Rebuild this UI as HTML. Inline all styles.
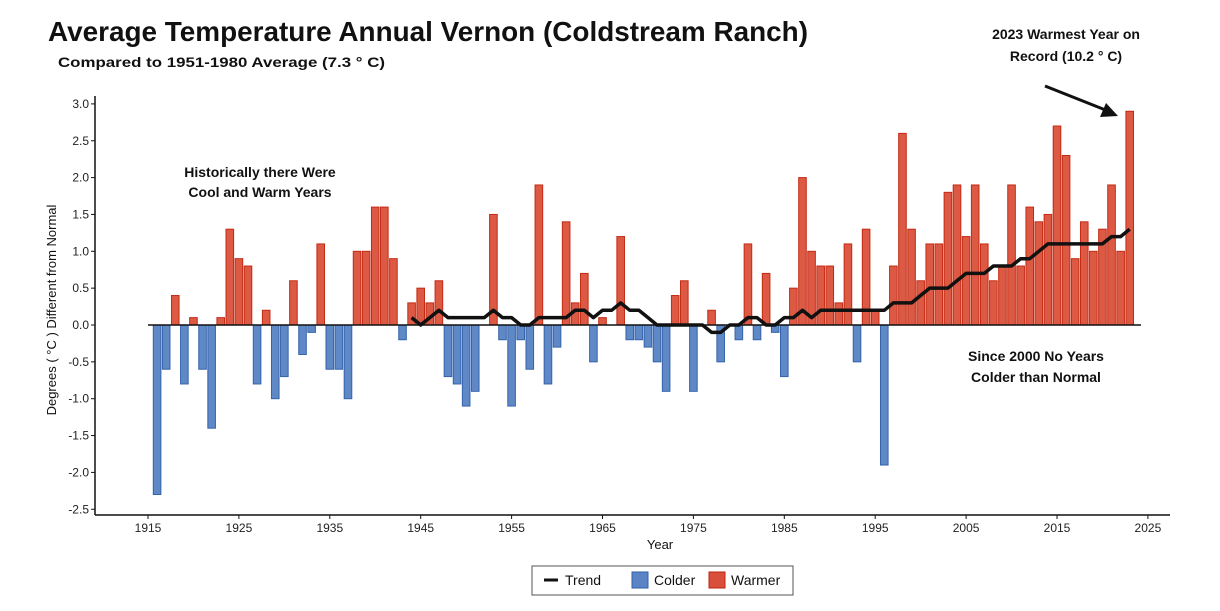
<!DOCTYPE html>
<html><head><meta charset="utf-8"><style>
body{margin:0;background:#fff;width:1220px;height:606px;overflow:hidden;font-family:"Liberation Sans",sans-serif}
</style></head><body>
<svg id="s" width="1220" height="606" xmlns="http://www.w3.org/2000/svg" font-family="Liberation Sans, sans-serif">
<text x="48" y="41" font-size="28" font-weight="bold" fill="#111" textLength="760" lengthAdjust="spacingAndGlyphs">Average Temperature Annual Vernon (Coldstream Ranch)</text>
<text x="58" y="67" font-size="14" font-weight="bold" fill="#111" textLength="327" lengthAdjust="spacingAndGlyphs">Compared to 1951-1980 Average (7.3 ° C)</text>
<text x="1066" y="39" font-size="14" font-weight="bold" fill="#111" text-anchor="middle">2023 Warmest Year on</text>
<text x="1066" y="61" font-size="14" font-weight="bold" fill="#111" text-anchor="middle">Record (10.2 ° C)</text>
<line x1="1045" y1="86" x2="1108" y2="111" stroke="#111" stroke-width="3"/>
<polygon points="1118,116 1100,117 1106,103" fill="#111"/>
<text x="260" y="177" font-size="14" font-weight="bold" fill="#111" text-anchor="middle">Historically there Were</text>
<text x="260" y="197" font-size="14" font-weight="bold" fill="#111" text-anchor="middle">Cool and Warm Years</text>
<text x="1036" y="361" font-size="14" font-weight="bold" fill="#111" text-anchor="middle">Since 2000 No Years</text>
<text x="1036" y="382" font-size="14" font-weight="bold" fill="#111" text-anchor="middle">Colder than Normal</text>
<g id="bars"></g>
<line x1="148" y1="325" x2="1141" y2="325" stroke="#111" stroke-width="1.5"/>
<polyline id="trend" fill="none" stroke="#111" stroke-width="3.5" stroke-linejoin="round"/>
<line x1="95" y1="96" x2="95" y2="515" stroke="#111" stroke-width="1.5"/>
<line x1="95" y1="515" x2="1170" y2="515" stroke="#111" stroke-width="1.5"/>
<g id="ax" font-size="12" fill="#222"></g>
<text x="56" y="310" font-size="13" fill="#111" text-anchor="middle" transform="rotate(-90 56 310)">Degrees ( °C ) Different from Normal</text>
<text x="660" y="549" font-size="13" fill="#111" text-anchor="middle">Year</text>
<rect x="532" y="566" width="261" height="29" fill="#fff" stroke="#555" stroke-width="1"/>
<line x1="544" y1="580" x2="558" y2="580" stroke="#111" stroke-width="3"/>
<text x="565" y="585" font-size="14" fill="#111">Trend</text>
<rect x="632" y="572" width="16" height="16" fill="#5b84c4" stroke="#2f5fa8"/>
<text x="654" y="585" font-size="14" fill="#111">Colder</text>
<rect x="709" y="572" width="16" height="16" fill="#d9503a" stroke="#c0220e"/>
<text x="731" y="585" font-size="14" fill="#111">Warmer</text>
</svg>
<script>
var v=[-2.3,-0.6,0.4,-0.8,0.1,-0.6,-1.4,0.1,1.3,0.9,0.8,-0.8,0.2,-1.0,-0.7,0.6,-0.4,-0.1,1.1,-0.6,-0.6,-1.0,1.0,1.0,1.6,1.6,0.9,-0.2,0.3,0.5,0.3,0.6,-0.7,-0.8,-1.1,-0.9,0,1.5,-0.2,-1.1,-0.2,-0.6,1.9,-0.8,-0.3,1.4,0.3,0.7,-0.5,0.1,0,1.2,-0.2,-0.2,-0.3,-0.5,-0.9,0.4,0.6,-0.9,0,0.2,-0.5,0,-0.2,1.1,-0.2,0.7,-0.1,-0.7,0.5,2.0,1.0,0.8,0.8,0.3,1.1,-0.5,1.3,0.2,-1.9,0.8,2.6,1.3,0.6,1.1,1.1,1.8,1.9,1.2,1.9,1.1,0.6,0.8,1.9,0.8,1.6,1.4,1.5,2.7,2.3,0.9,1.4,1.0,1.3,1.9,1.0,2.9];
var X=function(y){return 148+(y-1915)*9.09},Y=function(t){return 325-t*73.7};
var h='';
v.forEach(function(t,i){var yr=1916+i,x=X(yr)-3.8;if(t==0)return;
 if(t>0)h+='<rect x="'+x+'" y="'+Y(t)+'" width="7.6" height="'+(t*73.7)+'" fill="#dc5a44" stroke="#c42a14" stroke-width="1"/>';
 else h+='<rect x="'+x+'" y="325" width="7.6" height="'+(-t*73.7)+'" fill="#5f88c6" stroke="#3563ab" stroke-width="1"/>';});
document.getElementById('bars').innerHTML=h;
var tr=[0.1,0,0.1,0.2,0.1,0.1,0.1,0.1,0.1,0.2,0.1,0.1,0,0,0.1,0.1,0.1,0.1,0.2,0.2,0.1,0.2,0.2,0.3,0.2,0.2,0.1,0,0,0,0,0,0,-0.1,-0.1,0,0,0.1,0.1,0,0,0.1,0.1,0.2,0.1,0.2,0.2,0.2,0.2,0.2,0.2,0.2,0.2,0.3,0.3,0.3,0.4,0.5,0.5,0.5,0.6,0.7,0.7,0.7,0.8,0.8,0.8,0.9,0.9,1.0,1.1,1.1,1.1,1.1,1.1,1.1,1.1,1.2,1.2,1.3];
document.getElementById('trend').setAttribute('points',tr.map(function(t,i){return X(1944+i).toFixed(1)+','+Y(t).toFixed(1)}).join(' '));
var a='';
for(var k=0;k<=11;k++){var t=3-k*0.5,y=Y(t);a+='<line x1="91" y1="'+y+'" x2="95" y2="'+y+'" stroke="#111"/><text x="89" y="'+(y+4)+'" text-anchor="end">'+t.toFixed(1)+'</text>';}
for(var yr=1915;yr<=2025;yr+=10){var x=X(yr);a+='<line x1="'+x+'" y1="515" x2="'+x+'" y2="519" stroke="#111"/><text x="'+x+'" y="532" text-anchor="middle">'+yr+'</text>';}
document.getElementById('ax').innerHTML=a;
</script>
</body></html>
